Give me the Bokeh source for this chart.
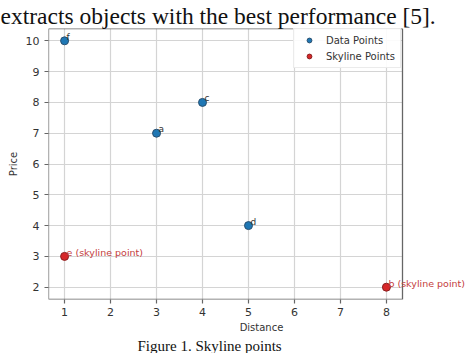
from bokeh.plotting import figure
from bokeh.models import (ColumnDataSource, LabelSet, Legend, LegendItem, Range1d,
                          FixedTicker, Title, BoxAnnotation)
from bokeh.core.properties import value
from bokeh.embed import file_html
from bokeh.resources import INLINE

# ---- data ----
data_names = ["f", "a", "c", "d"]
data_x = [1, 3, 4, 5]
data_y = [10, 7, 8, 4]

sky_names = ["e", "b"]
sky_x = [1, 8]
sky_y = [3, 2]
sky_text = [n + " (skyline point)" for n in sky_names]

x_ticks = [1, 2, 3, 4, 5, 6, 7, 8]
y_ticks = [2, 3, 4, 5, 6, 7, 8, 9, 10]

top_text = "extracts objects with the best performance [5]."
bottom_text = "Figure 1. Skyline points"

BLUE = "#1f77b4"
RED = "#d62728"
FONT = "DejaVu Sans"
SPINE = "#666666"

# axes limits like matplotlib's 5% margins
xmin, xmax = min(data_x + sky_x), max(data_x + sky_x)
ymin, ymax = min(data_y + sky_y), max(data_y + sky_y)
x0, x1 = xmin - 0.05 * (xmax - xmin), xmax + 0.05 * (xmax - xmin)
y0, y1 = ymin - 0.05 * (ymax - ymin), ymax + 0.05 * (ymax - ymin)

# the plotting frame reaches the right edge so labels beyond the axes box are not clipped
W, H = 474, 353
LEFT = 48
BOX_W = 354                      # width of the visible axes box in px
x_right = x1 + (W - LEFT - BOX_W) * (x1 - x0) / BOX_W

p = figure(width=W, height=H, output_backend="svg", toolbar_location=None,
           x_range=Range1d(x0, x_right), y_range=Range1d(y0, y1),
           min_border_left=LEFT, min_border_right=0, min_border_top=0,
           min_border_bottom=0, background_fill_color="white",
           border_fill_color="white")
p.outline_line_color = None

for ax in (p.xaxis, p.yaxis):
    ax.axis_line_color = None
    ax.major_tick_line_color = SPINE
    ax.major_tick_line_width = 1.2
    ax.major_tick_in = 0
    ax.major_tick_out = 4
    ax.minor_tick_line_color = None
    ax.major_label_text_font = FONT
    ax.major_label_text_font_size = "11px"
    ax.major_label_text_color = "#333333"
    ax.axis_label_text_font = FONT
    ax.axis_label_text_font_size = "10px"
    ax.axis_label_text_font_style = "normal"
    ax.axis_label_text_color = "#333333"

p.xaxis.ticker = FixedTicker(ticks=x_ticks)
p.yaxis.ticker = FixedTicker(ticks=y_ticks)
p.xaxis.axis_label = "Distance"
p.yaxis.axis_label = "Price"
p.xaxis.major_label_standoff = 4
p.yaxis.major_label_standoff = 5
p.xaxis.axis_label_standoff = 3
p.yaxis.axis_label_standoff = 4

p.xgrid.ticker = FixedTicker(ticks=x_ticks)
p.ygrid.ticker = FixedTicker(ticks=y_ticks)
p.grid.grid_line_color = "#d4d4d4"
p.grid.grid_line_width = 1.2

# hide grid beyond the axes box, then draw the box (spines)
p.add_layout(BoxAnnotation(left=x1, fill_color="white", fill_alpha=1.0,
                           line_color=None, level="underlay"))
p.add_layout(BoxAnnotation(left=x0, right=x1, bottom=y0, top=y1, fill_alpha=0,
                           line_color=SPINE, line_alpha=1.0, line_width=1.3,
                           level="underlay"))

src_d = ColumnDataSource(dict(x=data_x, y=data_y, name=data_names))
src_s = ColumnDataSource(dict(x=sky_x, y=sky_y, name=sky_text))

r_d = p.scatter("x", "y", source=src_d, size=8, fill_color=BLUE,
                line_color="#2a5070", line_width=1)
r_s = p.scatter("x", "y", source=src_s, size=8, fill_color=RED,
                line_color="#8a2020", line_width=1)

ls_d = LabelSet(x="x", y="y", text="name", source=src_d, x_offset=2, y_offset=1,
                text_font=value(FONT), text_font_size="9px", text_color="#333333",
                text_baseline="alphabetic")
ls_s = LabelSet(x="x", y="y", text="name", source=src_s, x_offset=2, y_offset=0,
                text_font=value(FONT), text_font_size="9.5px", text_color="#c44040",
                text_baseline="alphabetic")
p.add_layout(ls_d)
p.add_layout(ls_s)

legend = Legend(items=[LegendItem(label="Data Points", renderers=[r_d]),
                       LegendItem(label="Skyline Points", renderers=[r_s])],
                location=(245, 231), padding=5, spacing=4, margin=0,
                label_text_font=FONT, label_text_font_size="10px",
                label_text_color="#333333", glyph_width=20, glyph_height=12,
                label_height=12, label_standoff=7, border_line_color="#d8d8d8",
                background_fill_alpha=0.9)
p.add_layout(legend, "center")

p.add_layout(Title(text=top_text, align="left", offset=-LEFT, standoff=0,
                   text_font="Liberation Serif", text_font_size="23.5px",
                   text_font_style="normal", text_color="#111111"), "above")
p.add_layout(Title(text=bottom_text, align="left", offset=89, standoff=0,
                   text_font="Liberation Serif", text_font_size="15px",
                   text_font_style="normal", text_color="#111111"), "below")

open("out.html", "w").write(file_html(p, INLINE))
